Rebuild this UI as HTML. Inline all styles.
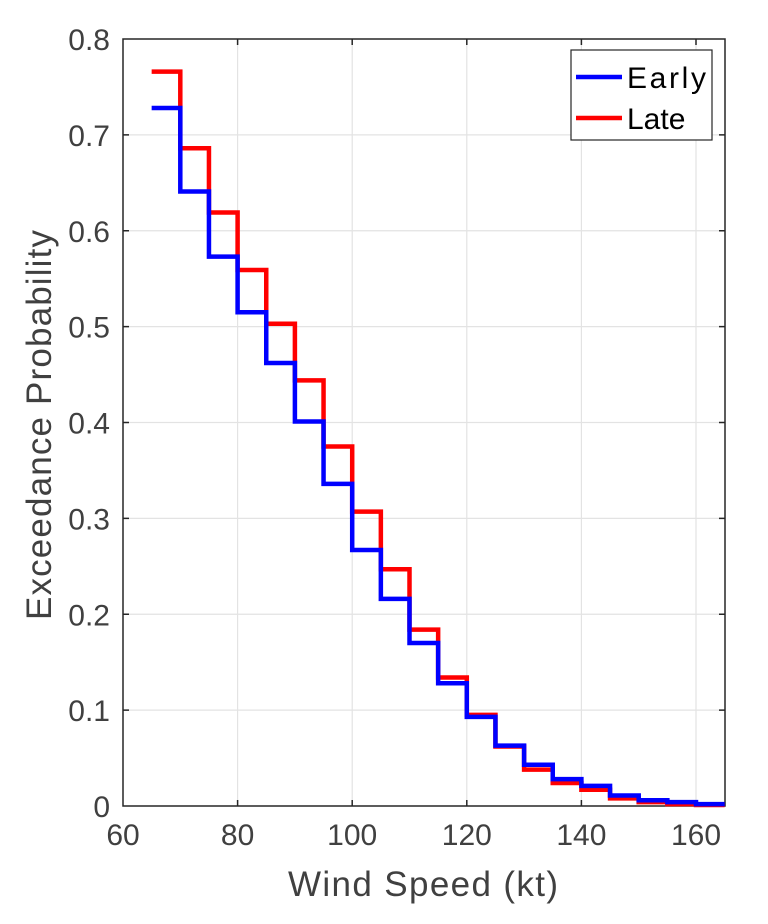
<!DOCTYPE html>
<html><head><meta charset="utf-8"><style>
html,body{margin:0;padding:0;background:#fff;}
svg{display:block;font-family:"Liberation Sans",sans-serif;}
</style></head><body>
<svg id="s" width="768" height="924" viewBox="0 0 768 924" xmlns="http://www.w3.org/2000/svg">
<g id="grid" stroke="#e3e3e3" stroke-width="1.2"></g>
<g id="ticks" stroke="#262626" stroke-width="1.5"></g>
<g id="lbl" fill="#404040" font-size="30"></g>
<rect x="123" y="39" width="602" height="767" fill="none" stroke="#262626" stroke-width="1.5"/>
<path id="late" fill="none" stroke="#ff0000" stroke-width="4.5"/>
<path id="early" fill="none" stroke="#0000ff" stroke-width="4.5"/>
<rect x="571" y="50" width="141" height="90" fill="#fff" stroke="#262626" stroke-width="1.2"/>
<line x1="576" y1="77" x2="622" y2="77" stroke="#0000ff" stroke-width="4.5"/>
<line x1="576" y1="118" x2="622" y2="118" stroke="#ff0000" stroke-width="4.5"/>
<text x="627" y="88" font-size="30" fill="#000" textLength="79">Early</text>
<text x="627" y="129" font-size="30" fill="#000">Late</text>
<text x="423" y="896" font-size="35" fill="#404040" text-anchor="middle" textLength="270">Wind Speed (kt)</text>
<text transform="translate(51,425) rotate(-90)" font-size="35" fill="#404040" text-anchor="middle" textLength="390">Exceedance Probability</text>
</svg>
<script>
const X=v=>123+(v-60)*5.73, Y=p=>806-p*958.75;
const ns="http://www.w3.org/2000/svg";
function el(p,t,a,txt){const e=document.createElementNS(ns,t);for(const k in a)e.setAttribute(k,a[k]);if(txt)e.textContent=txt;document.getElementById(p).appendChild(e);}
for(let v=80;v<=160;v+=20){el("grid","line",{x1:X(v),x2:X(v),y1:39,y2:806});el("ticks","line",{x1:X(v),x2:X(v),y1:806,y2:800});el("ticks","line",{x1:X(v),x2:X(v),y1:39,y2:45});}
for(let v=60;v<=160;v+=20)el("lbl","text",{x:X(v),y:845,"text-anchor":"middle"},String(v));
for(let i=1;i<8;i++){const y=Y(i/10);el("grid","line",{x1:123,x2:725,y1:y,y2:y});el("ticks","line",{x1:123,x2:129,y1:y,y2:y});el("ticks","line",{x1:725,x2:719,y1:y,y2:y});}
for(let i=0;i<=8;i++)el("lbl","text",{x:110,y:Y(i/10)+11,"text-anchor":"end"},i==0?"0":(i/10).toFixed(1));
const E=[0.728,0.641,0.573,0.515,0.462,0.401,0.336,0.267,0.216,0.170,0.128,0.093,0.063,0.043,0.028,0.021,0.011,0.006,0.004,0.002];
const L=[0.766,0.686,0.619,0.559,0.503,0.444,0.375,0.307,0.247,0.184,0.134,0.095,0.062,0.038,0.024,0.017,0.008,0.004,0.002,0.001];
function path(d){let s="";d.forEach((p,i)=>{const x0=X(65+5*i),x1=X(70+5*i),y=Y(p);s+=(i==0?"M":"L")+x0+","+y+"L"+x1+","+y;});return s;}
document.getElementById("late").setAttribute("d",path(L));
document.getElementById("early").setAttribute("d",path(E));
</script>
</body></html>
